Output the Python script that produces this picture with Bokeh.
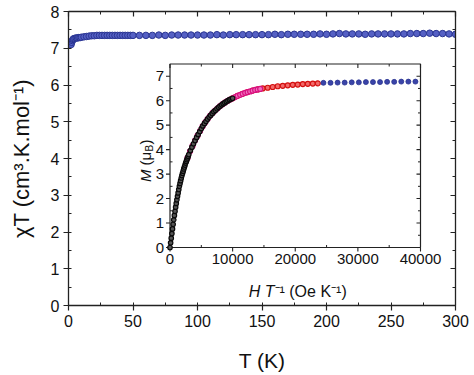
import math
from bokeh.plotting import figure
from bokeh.models import (Range1d, LinearAxis, SingleIntervalTicker, Label,
                          CustomJSTickFormatter)
from bokeh.core.properties import value
from bokeh.embed import file_html
from bokeh.resources import INLINE

FONT = "Liberation Sans"

# ---------------- main data: chi*T vs T ----------------
T_low = [2, 2.5, 3, 3.5, 4, 5, 6, 7, 8, 9, 10, 12, 14, 16, 18, 20, 22, 24, 26,
         28, 30, 32, 34, 36, 38, 40, 42, 44, 46, 48, 50]
chiT_low = [7.10, 7.16, 7.21, 7.24, 7.26, 7.27, 7.28, 7.28, 7.29, 7.29, 7.30,
            7.31, 7.32, 7.33, 7.34, 7.34, 7.35, 7.35, 7.35, 7.35, 7.35, 7.35,
            7.35, 7.35, 7.35, 7.35, 7.35, 7.35, 7.35, 7.35, 7.35]
T_high = [55, 60, 65, 70, 75, 80, 85, 90, 95, 100,
          105, 110, 115, 120, 125, 130, 135, 140, 145, 150,
          155, 160, 165, 170, 175, 180, 185, 190, 195, 200,
          205, 210, 215, 220, 225, 230, 235, 240, 245, 250,
          255, 260, 265, 270, 275, 280, 285, 290, 295, 300]
chiT_high = [7.35, 7.35, 7.35, 7.36, 7.35, 7.36, 7.36, 7.36, 7.36, 7.36,
             7.36, 7.36, 7.37, 7.36, 7.37, 7.37, 7.37, 7.37, 7.37, 7.37,
             7.37, 7.38, 7.37, 7.38, 7.38, 7.38, 7.38, 7.38, 7.39, 7.38,
             7.39, 7.40, 7.39, 7.39, 7.39, 7.38, 7.39, 7.39, 7.39, 7.39,
             7.39, 7.39, 7.40, 7.40, 7.40, 7.41, 7.40, 7.40, 7.39, 7.38]

# ---------------- inset data: M vs H/T ----------------
HT_black = [0, 100, 200, 300, 400, 500, 600, 700, 800, 900, 1000, 1100, 1200,
            1300, 1400, 1500, 1600, 1700, 1800, 1900, 2000, 2100, 2200, 2300,
            2400, 2500, 2600, 2700, 2800, 2900, 3000,
            3250, 3500, 3750, 4000, 4250, 4500, 4750, 5000, 5250, 5500, 5750,
            6000, 6250, 6500, 6750, 7000, 7250, 7500, 7750, 8000, 8250, 8500,
            8750, 9000, 9250, 9500, 9750, 10000]
M_black = [0.0, 0.19, 0.38, 0.57, 0.76, 0.95, 1.13, 1.31, 1.48, 1.65, 1.80,
           1.95, 2.09, 2.23, 2.37, 2.50, 2.62, 2.73, 2.84, 2.94, 3.03, 3.12,
           3.21, 3.29, 3.37, 3.45, 3.52, 3.59, 3.66, 3.73, 3.80,
           3.96, 4.10, 4.24, 4.37, 4.50, 4.62, 4.74, 4.86, 4.97, 5.07, 5.16,
           5.25, 5.33, 5.41, 5.48, 5.55, 5.61, 5.67, 5.73, 5.78, 5.83, 5.88,
           5.92, 5.96, 6.00, 6.04, 6.07, 6.10]
HT_magenta = [2800, 3200, 3600, 4000, 4400, 4800, 5200, 5600, 6000, 6400,
              6800, 7200, 7600, 8000, 8400, 8800, 9200, 9600, 10000, 10400,
              10800, 11200, 11600, 12000, 12400, 12800, 13200, 13600, 14000,
              14400]
M_magenta = [3.66, 3.93, 4.15, 4.37, 4.57, 4.76, 4.95, 5.10, 5.25, 5.38,
             5.50, 5.60, 5.69, 5.78, 5.86, 5.93, 5.99, 6.05, 6.10, 6.15,
             6.20, 6.24, 6.28, 6.32, 6.35, 6.38, 6.41, 6.44, 6.46, 6.48]
HT_red = [10000, 10800, 11600, 12400, 13200, 14000, 14800, 15600, 16400,
          17200, 18000, 18800, 19600, 20400, 21200, 22000, 22800, 23600]
M_red = [6.10, 6.20, 6.28, 6.35, 6.41, 6.46, 6.50, 6.53, 6.56, 6.59, 6.61,
         6.63, 6.65, 6.66, 6.68, 6.69, 6.70, 6.71]
HT_blue = [24500, 25630, 26760, 27890, 29020, 30150, 31280, 32410, 33540,
           34670, 35800, 36930, 38060, 39190]
M_blue = [6.73, 6.73, 6.74, 6.74, 6.75, 6.75, 6.76, 6.76, 6.76, 6.77, 6.77,
          6.78, 6.78, 6.78]

inset_x_ticks = [0, 10000, 20000, 30000, 40000]
inset_x_labels = ["0", "10000", "20000", "30000", "40000"]
inset_x_minor = [5000, 15000, 25000, 35000]
inset_y_ticks = [0, 1, 2, 3, 4, 5, 6, 7]
inset_y_labels = ["0", "1", "2", "3", "4", "5", "6", "7"]
inset_y_minor = [0.5, 1.5, 2.5, 3.5, 4.5, 5.5, 6.5]
INSET_X = (0, 40000)
INSET_Y = (0, 7.5)

# ---------------- layout (pixels) ----------------
FW, FH = 387, 294           # main frame size
IN_L, IN_R = 101.5, 352.0   # inset frame left/right, px from main frame left
IN_B, IN_T = 58.0, 241.5    # inset frame bottom/top, px from main frame bottom

p = figure(frame_width=FW, frame_height=FH, output_backend="svg",
           toolbar_location=None, x_range=Range1d(0, 300),
           y_range=Range1d(0, 8), min_border_left=68, min_border_right=17,
           min_border_top=11, min_border_bottom=69,
           x_axis_location=None, y_axis_location=None)
p.grid.visible = False
p.outline_line_color = None
p.background_fill_color = "white"
p.border_fill_color = "white"

AX_COL = "#222222"
TXT_COL = "#111111"


def style_axis(ax, labels=True, outward=True):
    ax.axis_line_color = AX_COL
    ax.axis_line_width = 1.3
    ax.major_tick_line_color = AX_COL
    ax.minor_tick_line_color = AX_COL
    ax.major_tick_line_width = 1.2
    ax.minor_tick_line_width = 1.0
    if outward:
        ax.major_tick_out = 5
        ax.major_tick_in = 0
    else:
        ax.major_tick_out = 0
        ax.major_tick_in = 5
    ax.minor_tick_out = 0
    ax.minor_tick_in = 3
    if labels:
        ax.major_label_text_font = FONT
        ax.major_label_text_font_size = "16px"
        ax.major_label_text_color = TXT_COL
        ax.major_label_standoff = 4
        ax.axis_label_text_font = FONT
        ax.axis_label_text_font_style = "normal"
        ax.axis_label_text_color = TXT_COL
    else:
        ax.formatter = CustomJSTickFormatter(code="return ''")
        ax.major_label_standoff = 0


xt = SingleIntervalTicker(interval=50, num_minor_ticks=2)
yt = SingleIntervalTicker(interval=1, num_minor_ticks=2)
bottom = LinearAxis(ticker=xt, axis_label="T (K)")
left = LinearAxis(ticker=yt, axis_label="\u03c7T (cm\u00b3.K.mol\u207b\u00b9)")
top = LinearAxis(ticker=SingleIntervalTicker(interval=50, num_minor_ticks=2))
right = LinearAxis(ticker=SingleIntervalTicker(interval=1, num_minor_ticks=2))
style_axis(bottom)
style_axis(left)
bottom.axis_label_text_font_size = "21px"
bottom.axis_label_standoff = 19
left.axis_label_text_font_size = "22px"
left.axis_label_standoff = 14
style_axis(top, labels=False, outward=False)
style_axis(right, labels=False, outward=False)
p.add_layout(bottom, "below")
p.add_layout(left, "left")
p.add_layout(top, "above")
p.add_layout(right, "right")

# main data
MAIN_FILL = "#5560c4"
MAIN_LINE = "#2a3592"
p.scatter(T_low, chiT_low, size=6.5, marker="circle", fill_color=MAIN_FILL,
          line_color=MAIN_LINE, line_width=1)
p.scatter(T_high, chiT_high, size=6.5, marker="circle", fill_color=MAIN_FILL,
          line_color=MAIN_LINE, line_width=1)

# ---------------- inset via extra ranges ----------------
sx = (INSET_X[1] - INSET_X[0]) / (IN_R - IN_L)
sy = (INSET_Y[1] - INSET_Y[0]) / (IN_T - IN_B)
p.extra_x_ranges = {"ix": Range1d(INSET_X[0] - IN_L * sx,
                                  INSET_X[1] + (FW - IN_R) * sx)}
p.extra_y_ranges = {"iy": Range1d(INSET_Y[0] - IN_B * sy,
                                  INSET_Y[1] + (FH - IN_T) * sy)}
R = dict(x_range_name="ix", y_range_name="iy")

p.quad(left=[INSET_X[0]], right=[INSET_X[1]], bottom=[INSET_Y[0]],
       top=[INSET_Y[1]], fill_color="white", line_color=AX_COL,
       line_width=1.2, **R)

# inset ticks (rays with screen length)
n = len(inset_x_ticks)
p.ray(inset_x_ticks, [INSET_Y[0]] * n, length=4, length_units="screen",
      angle=-math.pi / 2, line_color=AX_COL, line_width=1.1, **R)
p.ray(inset_x_ticks, [INSET_Y[1]] * n, length=4, length_units="screen",
      angle=-math.pi / 2, line_color=AX_COL, line_width=1.1, **R)
m = len(inset_x_minor)
p.ray(inset_x_minor, [INSET_Y[0]] * m, length=2.5, length_units="screen",
      angle=math.pi / 2, line_color=AX_COL, line_width=1, **R)
p.ray(inset_x_minor, [INSET_Y[1]] * m, length=2.5, length_units="screen",
      angle=-math.pi / 2, line_color=AX_COL, line_width=1, **R)
k = len(inset_y_ticks)
p.ray([INSET_X[0]] * k, inset_y_ticks, length=4, length_units="screen",
      angle=math.pi, line_color=AX_COL, line_width=1.1, **R)
p.ray([INSET_X[1]] * k, inset_y_ticks, length=4, length_units="screen",
      angle=math.pi, line_color=AX_COL, line_width=1.1, **R)
q = len(inset_y_minor)
p.ray([INSET_X[0]] * q, inset_y_minor, length=2.5, length_units="screen",
      angle=0, line_color=AX_COL, line_width=1, **R)
p.ray([INSET_X[1]] * q, inset_y_minor, length=2.5, length_units="screen",
      angle=math.pi, line_color=AX_COL, line_width=1, **R)

# inset tick labels
p.text(inset_x_ticks, [INSET_Y[0]] * n, text=inset_x_labels, y_offset=6,
       text_align="center", text_baseline="top", text_font=value(FONT),
       text_font_size="15px", text_color=TXT_COL, **R)
p.text([INSET_X[0]] * k, inset_y_ticks, text=inset_y_labels, x_offset=-6,
       text_align="right", text_baseline="middle", text_font=value(FONT),
       text_font_size="15px", text_color=TXT_COL, **R)

# inset data
p.scatter(HT_red, M_red, size=5, marker="circle", fill_color="#f26a6a",
          line_color="#d41010", line_width=1.2, **R)
p.scatter(HT_magenta, M_magenta, size=5, marker="circle", fill_color="#f070bd",
          line_color="#d8107f", line_width=1.2, **R)
p.scatter(HT_black, M_black, size=4.5, marker="circle", fill_color="#555555",
          line_color="#0a0a0a", line_width=1.2, **R)
p.scatter(HT_blue, M_blue, size=5, marker="circle", fill_color="#3a44a8",
          line_color="#2a3390", line_width=0.8, **R)


# ---------------- inset titles as labels (frame-relative px) ----------------
def lab(txt, x, y, size, italic=False, align="left", baseline="middle",
        angle=0.0):
    p.add_layout(Label(x=x, y=y, x_units="screen", y_units="screen", text=txt,
                       text_font=FONT, text_font_size=size,
                       text_font_style="italic" if italic else "normal",
                       text_align=align, text_baseline=baseline, angle=angle,
                       text_color=TXT_COL))


# inset x title
lab("H T", 206, 14, "16px", italic=True, align="right")
lab("\u207b\u00b9 (Oe K\u207b\u00b9)", 206, 14, "16px", align="left")
# inset y title (rotated)
lab("M", 77, 136, "15px", italic=True, align="right", angle=math.pi / 2)
lab("(\u03bc", 77, 140, "15px", align="left", angle=math.pi / 2)
lab("B", 81, 154, "10px", align="left", angle=math.pi / 2)
lab(")", 77, 161, "15px", align="left", angle=math.pi / 2)

open("out.html", "w").write(file_html(p, INLINE))
